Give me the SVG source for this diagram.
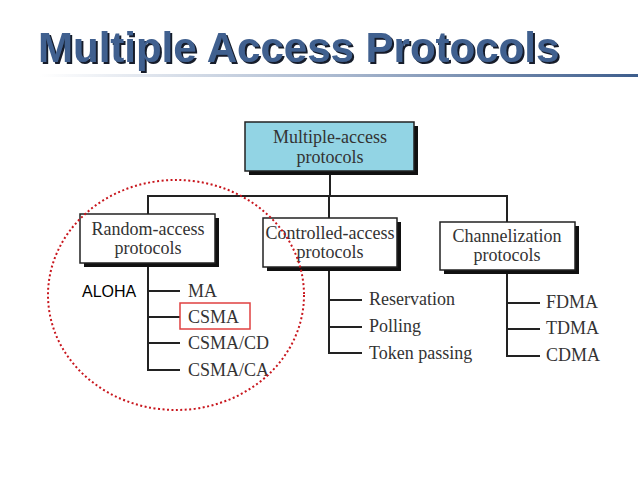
<svg xmlns="http://www.w3.org/2000/svg" width="638" height="479" viewBox="0 0 638 479">
<defs>
<linearGradient id="rule" x1="0" y1="0" x2="1" y2="0">
<stop offset="0" stop-color="#ffffff"/>
<stop offset="0.5" stop-color="#a9b8cf"/>
<stop offset="1" stop-color="#3d5d8c"/>
</linearGradient>
<filter id="ts" x="-5%" y="-20%" width="110%" height="150%">
<feDropShadow dx="2" dy="2" stdDeviation="0.6" flood-color="#161c2a" flood-opacity="1"/>
</filter>
<style>
.title{font-family:"Liberation Sans",Arial,sans-serif;font-weight:bold;font-size:42px}
.box{fill:#ffffff;stroke:#222;stroke-width:1.5}
.shadow{fill:#111}
.lbl{font-family:"Liberation Serif","Times New Roman",serif;font-size:18px;fill:#333;text-anchor:middle}
.item{font-family:"Liberation Serif","Times New Roman",serif;font-size:18px;fill:#333}
.ln{stroke:#222;stroke-width:2;fill:none}
</style>
</defs>
<rect width="638" height="479" fill="#ffffff"/>
<g id="title">
<text class="title" x="38" y="62" fill="#40608f" filter="url(#ts)">Multiple Access Protocols</text>
<rect x="40" y="74" width="598" height="3" fill="url(#rule)"/>
</g>
<g id="connectors">
<path class="ln" d="M330,172 V196 M148,214 V196 H507 V222 M329,196 V218"/>
<path class="ln" d="M148,263 V370 H180 M148,291 H180 M148,317 H180 M148,343 H180"/>
<path class="ln" d="M329,267 V353 H362 M329,300 H362 M329,327 H362"/>
<path class="ln" d="M507,270 V356 H540 M507,303 H540 M507,329 H540"/>
</g>
<g id="node-root">
<rect class="shadow" x="249" y="126" width="169" height="49"/>
<rect x="245" y="122" width="169" height="49" fill="#92d4e4" stroke="#222" stroke-width="1.5"/>
<text class="lbl" x="330" y="143">Multiple-access</text>
<text class="lbl" x="330" y="163">protocols</text>
</g>
<g id="node-random">
<rect class="shadow" x="84" y="218" width="135" height="49"/>
<rect class="box" x="80" y="214" width="135" height="49"/>
<text class="lbl" x="148" y="235">Random-access</text>
<text class="lbl" x="148" y="254">protocols</text>
</g>
<g id="node-controlled">
<rect class="shadow" x="267" y="222" width="134" height="49"/>
<rect class="box" x="263" y="218" width="134" height="49"/>
<text class="lbl" x="330" y="239">Controlled-access</text>
<text class="lbl" x="330" y="258">protocols</text>
</g>
<g id="node-channel">
<rect class="shadow" x="444" y="226" width="135" height="48"/>
<rect class="box" x="440" y="222" width="135" height="48"/>
<text class="lbl" x="507" y="242">Channelization</text>
<text class="lbl" x="507" y="261">protocols</text>
</g>
<g id="random-items">
<text class="item" x="188" y="297">MA</text>
<text class="item" x="188" y="323">CSMA</text>
<text class="item" x="188" y="349">CSMA/CD</text>
<text class="item" x="188" y="376">CSMA/CA</text>
<rect x="180" y="303" width="70" height="26" fill="none" stroke="#e04040" stroke-width="1.5"/>
<text x="82" y="297" font-family="'Liberation Sans',Arial,sans-serif" font-size="16" fill="#000">ALOHA</text>
</g>
<g id="controlled-items">
<text class="item" x="369" y="305">Reservation</text>
<text class="item" x="369" y="332">Polling</text>
<text class="item" x="369" y="359">Token passing</text>
</g>
<g id="channel-items">
<text class="item" x="546" y="308">FDMA</text>
<text class="item" x="546" y="334">TDMA</text>
<text class="item" x="546" y="361">CDMA</text>
</g>
<g id="highlight">
<ellipse cx="176" cy="295" rx="128" ry="115" fill="none" stroke="#c8161d" stroke-width="2" stroke-dasharray="2,2.5"/>
</g>
</svg>
